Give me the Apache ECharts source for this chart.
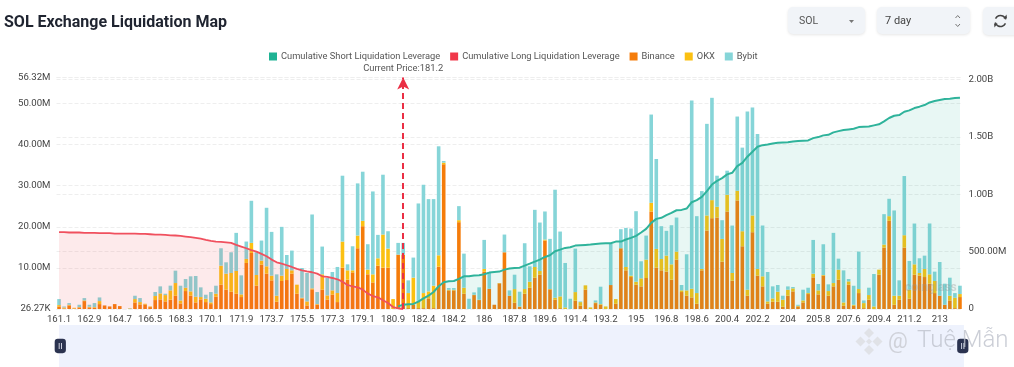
<!DOCTYPE html>
<html><head><meta charset="utf-8">
<style>html,body{margin:0;padding:0;background:#fff}#c{width:1014px;height:367px}</style>
<script src="https://cdn.jsdelivr.net/npm/echarts@6/dist/echarts.min.js"></script></head>
<body><div id="c"></div>
<script>
const prices = [161.1,161.4,161.7,162,162.3,162.6,162.9,163.2,163.5,163.8,164.1,164.4,164.7,165,165.3,165.6,165.9,166.2,166.5,166.8,167.1,167.4,167.7,168,168.3,168.6,168.9,169.2,169.5,169.8,170.1,170.4,170.7,171,171.3,171.6,171.9,172.2,172.5,172.8,173.1,173.4,173.7,174,174.3,174.6,174.9,175.2,175.5,175.8,176.1,176.4,176.7,177,177.3,177.6,177.9,178.2,178.5,178.8,179.1,179.4,179.7,180,180.3,180.6,180.9,181.2,181.2,181.5,181.8,182.1,182.4,182.7,183,183.3,183.6,183.9,184.2,184.5,184.8,185.1,185.4,185.7,186,186.3,186.6,186.9,187.2,187.5,187.8,188.1,188.4,188.7,189,189.3,189.6,189.9,190.2,190.5,190.8,191.1,191.4,191.7,192,192.3,192.6,192.9,193.2,193.5,193.8,194.1,194.4,194.7,195,195.3,195.6,195.9,196.2,196.5,196.8,197.1,197.4,197.7,198,198.3,198.6,198.9,199.2,199.5,199.8,200.1,200.4,200.7,201,201.3,201.6,201.9,202.2,202.5,202.8,203.1,203.4,203.7,204,204.3,204.6,204.9,205.2,205.5,205.8,206.1,206.4,206.7,207,207.3,207.6,207.9,208.2,208.5,208.8,209.1,209.4,209.7,210,210.3,210.6,210.9,211.2,211.5,211.8,212.1,212.4,212.7,213,213.3,213.6,213.9,214.2];
// bar values, millions
const binance = [.65,.16,.89,.16,.41,1.95,.41,.33,1.22,.89,.65,1.22,.73,0,0,1.63,1.14,1.14,.49,2.2,2.36,1.87,2.28,3.25,1.38,4.39,3.25,1.63,2.36,1.71,1.22,3.01,5.93,4.72,4.23,3.74,2.93,11.22,13.66,5.69,10.81,8.62,6.99,1.79,6.83,7.07,8.62,3.74,2.6,.89,4.8,1.06,4.72,2.28,3.5,1.71,10.08,7.15,8.94,14.8,20.16,8.46,6.5,10.57,10.08,10.08,0,13.25,13.25,.24,1.06,.24,.24,2.6,.24,10.33,35.2,4.55,4.55,21.14,3.74,0,3.41,2.2,9.11,4.96,1.06,6.26,13.82,3.25,1.54,.57,3.74,5.2,7.64,8.37,16.67,4.8,2.28,.24,0,0,2.03,.81,4.72,0,1.46,1.06,0,5.85,1.3,14.8,9.43,7.8,5.93,5.53,7.56,23.74,10.08,9.43,9.11,7.15,12.03,4.15,3.25,2.85,1.3,9.43,19.11,22.11,22.28,11.54,23.74,6.91,26.42,15.28,3.25,18.7,8.13,5.53,1.3,1.79,1.79,.57,3.25,4.31,.65,1.63,3.66,7.72,3.58,8.13,3.25,5.53,7.15,.81,5.93,.81,3.9,.24,2.28,0,8.37,14.96,21.46,1.06,2.28,14.96,2.52,8.37,8.13,7.8,6.18,3.9,3.25,1.06,2.11,.24,2.93];
const okx = [.33,.24,.16,.16,.08,.16,.16,.16,.73,0,0,0,0,0,.16,.81,.57,.16,.16,.98,1.46,1.54,2.28,3.09,.73,.81,1.06,1.38,.57,.81,.41,.73,4.63,3.9,4.55,5.53,.65,.98,2.44,2.6,.98,1.79,1.14,1.46,1.3,2.68,.81,2.2,.16,.98,.24,.16,3.74,1.06,1.06,2.2,6.34,2.28,.49,3.09,1.3,1.14,1.95,1.79,8.05,4.63,2.44,0,0,3.66,6.59,1.63,3.66,1.71,5.45,2.76,.41,.16,.16,.49,1.46,0,.08,.08,.65,0,0,.08,0,0,3.33,.08,1.14,1.46,2.6,.89,.24,.08,.49,2.85,.41,0,2.11,.89,1.06,.41,.16,.16,.65,0,1.14,0,.81,.33,.73,1.95,4.47,2.11,4.55,2.76,3.9,3.74,1.95,.41,1.3,2.11,2.6,.33,3.66,4.39,2.6,5.53,4.07,1.87,2.36,3.66,1.46,4.07,1.63,2.44,.57,.81,2.44,1.71,1.46,.73,.16,.49,.24,.89,.98,.16,1.14,.81,2.44,.81,.81,.24,.98,1.22,1.14,.65,1.22,.73,1.14,2.2,.98,3.01,2.2,2.52,.65,1.95,2.28,2.93,0,0,1.14,2.52,.73];
const bybit = [1.46,.24,.41,0,.57,.57,.49,.98,.89,0,0,0,0,0,.08,.81,.98,0,0,.98,1.71,.33,1.14,3.01,3.58,2.11,3.66,5.04,2.36,.98,2.52,1.95,4.23,2.76,5.04,9.27,4.63,4.23,10.24,5.53,4.88,14.23,10.65,5.2,11.87,3.41,4.8,0,7.24,6.91,17.97,2.93,6.75,4.23,4.47,6.34,16.02,1.46,5.85,12.68,11.95,6.18,20.16,5.69,14.55,4.23,0,2.85,2.85,3.09,4.88,23.82,26.34,22.44,21.06,26.5,.41,.41,.41,3.41,8.29,2.52,.57,3.01,7.07,3.98,0,0,4.31,1.3,3.5,3.58,11.14,3.74,13.9,11.79,6.83,12.2,26.26,15.77,10.81,2.52,10.57,.16,0,0,.49,4.23,0,10,0,4.63,9.51,11.46,17.15,4.15,5.85,21.46,21.87,7.97,6.02,9.51,8.29,1.3,8.78,45.77,18.7,18.94,22.28,24.88,7.56,4.55,5.85,11.54,18.05,20.33,43.33,26.26,32.85,12.36,7.15,2.93,1.63,.98,.81,.33,.24,2.6,1.3,8.21,1.54,7.48,1.63,12.2,2.68,7.8,.57,4.63,9.11,.65,1.79,7.89,0,7.4,4.23,20.73,3.74,14.39,6.99,9.92,3.58,3.25,12.36,2.28,8.21,5.12,4.39,1.14,2.03];
// cumulative leverage, millions
const longCum = [669,669,666,666,666,663,663,663,660,660,660,657,657,657,657,657,654,654,651,648,648,645,642,640,637,631,625,619,613,602,593,587,584,581,576,558,544,529,512,500,480,459,430,407,395,381,366,349,337,328,320,308,285,279,270,259,238,209,198,189,169,134,113,102,76,52,17,6,0];
const shortCum = [23,38,41,44,64,93,116,148,198,233,241,244,262,285,285,291,294,302,317,323,326,343,352,358,360,378,395,413,430,453,468,503,517,532,538,552,555,558,561,567,570,573,573,587,587,605,619,637,666,698,750,785,794,817,837,860,863,875,930,948,977,1026,1084,1116,1140,1172,1186,1244,1273,1326,1369,1413,1427,1433,1442,1448,1451,1453,1459,1462,1465,1468,1488,1497,1512,1517,1538,1549,1558,1564,1570,1584,1587,1590,1599,1608,1634,1663,1683,1689,1718,1730,1750,1762,1776,1799,1811,1820,1828,1831,1837,1840];
const leftTicks = [26270,10000000,20000000,30000000,40000000,50000000,56320000];
const currentPriceIndex = 68;
const shortStart = 67;

const font = 'Roboto, sans-serif';
const M = a => a.map(v => v * 1e6);
const longData = M(longCum).concat(new Array(prices.length - longCum.length).fill(null));
const shortData = new Array(shortStart).fill(null).concat(M(shortCum));
const barSeries = (name, data, color) => ({name, type:'bar', stack:'ex', yAxisIndex:0, data:M(data), barWidth:3.6, itemStyle:{color}, z:2});
const box = (x,y,w,h) => ({type:'rect', shape:{x,y,width:w,height:h,r:5}, style:{fill:'#f1f4f8', shadowBlur:3, shadowColor:'rgba(0,0,0,.10)', shadowOffsetY:1}});
const txt = (x,y,text,size,fill) => ({type:'text', x, y, style:{text, font:size+'px '+font, fill, textVerticalAlign:'middle'}});
const chev = (pts) => ({type:'polyline', shape:{points:pts}, style:{stroke:'#777', lineWidth:1, fill:'none'}});
const dia = (cx,cy,r) => ({type:'polygon', z:100, shape:{points:[[cx,cy-r],[cx+r,cy],[cx,cy+r],[cx-r,cy]]}, style:{fill:'rgba(222,224,230,.95)'}});
const arc = (a,b) => ({type:'arc', shape:{cx:1000.5,cy:21,r:5.5,startAngle:a,endAngle:b}, style:{stroke:'#444',lineWidth:1.5,fill:'none'}});

const chart = echarts.init(document.getElementById('c'), null, {renderer:'canvas'});
chart.setOption({
  animation:false,
  backgroundColor:'#fff',
  title:{text:'SOL Exchange Liquidation Map', left:-1, top:10, textStyle:{fontFamily:font, fontSize:16, fontWeight:'bold', color:'#1f2430'}},
  legend:{top:47, left:264, itemWidth:8, itemHeight:8, itemGap:10, icon:'rect', textStyle:{fontFamily:font, fontSize:9.3, color:'#555', padding:[0,0,0,-1]},
    data:['Cumulative Short Liquidation Leverage','Cumulative Long Liquidation Leverage','Binance','OKX','Bybit']},
  grid:{left:56.5, right:51.5, top:77.5, bottom:58},
  xAxis:{type:'category', data:prices.map(String), axisTick:{show:false}, axisLine:{show:false},
    axisLabel:{interval:5, color:'#444', fontFamily:font, fontSize:9.6, margin:6, hideOverlap:false}},
  yAxis:[
    {type:'value', min:26270, max:56320000, position:'left',
     axisTick:{show:false, customValues:leftTicks},
     axisLabel:{customValues:leftTicks, color:'#444', fontFamily:font, fontSize:9.6, margin:6,
       formatter:v=> v<1e6 ? (v/1e3).toFixed(2)+'K' : (v/1e6).toFixed(2)+'M'},
     splitLine:{lineStyle:{type:'dashed', color:'#eeeeee'}}},
    {type:'value', min:0, max:2016000000, interval:500000000, position:'right',
     axisLabel:{color:'#444', fontFamily:font, fontSize:9.6, margin:6, showMaxLabel:false,
       formatter:v=> v===0 ? '0' : v>=1e9 ? (v/1e9).toFixed(2)+'B' : (v/1e6).toFixed(2)+'M'},
     splitLine:{show:true, lineStyle:{type:'dashed', color:'#eeeeee'}}}
  ],
  dataZoom:[{type:'slider', xAxisIndex:0, start:0, end:100, left:58.5, width:904.5, top:325, height:42,
    showDetail:false, showDataShadow:false, brushSelect:false, moveHandleSize:0,
    backgroundColor:'#eef2fd', fillerColor:'#eef2fd', borderColor:'transparent',
    handleIcon:'path://M3,0 H8 A3,3 0 0 1 11,3 V11 A3,3 0 0 1 8,14 H3 A3,3 0 0 1 0,11 V3 A3,3 0 0 1 3,0 Z M4,4 V10 H4.8 V4 Z M6.2,4 V10 H7 V4 Z',
    handleSize:'34%', handleStyle:{color:'#2b3350', borderColor:'#2b3350', borderWidth:0}}],
  series:[
    {name:'Cumulative Short Liquidation Leverage', type:'line', yAxisIndex:1, data:shortData, symbol:'none', z:3,
     lineStyle:{color:'#2fb39b', width:2}, itemStyle:{color:'#1fb394'}, areaStyle:{color:'#2fb39b', opacity:.11}},
    {name:'Cumulative Long Liquidation Leverage', type:'line', yAxisIndex:1, data:longData, symbol:'none', z:3,
     lineStyle:{color:'#f0505e', width:1.8}, itemStyle:{color:'#f0384a'}, areaStyle:{color:'#f0505e', opacity:.12},
     markLine:{silent:true, symbol:['none','arrow'], symbolSize:[9,12],
       lineStyle:{color:'#ea2f45', type:[6,4], width:2},
       label:{show:true, position:'end', distance:4, formatter:'Current Price:181.2', color:'#555', fontFamily:font, fontSize:9.4},
       data:[{xAxis:currentPriceIndex}]}},
    barSeries('Binance', binance, '#f57c0a'),
    barSeries('OKX', okx, '#fbc012'),
    barSeries('Bybit', bybit, '#86d5d8')
  ],
  graphic:[
    box(788,7,77,27), box(877,7,93,27), box(983,7,40,28),
    txt(799,21,'SOL',10.5,'#555'),
    {type:'polygon', shape:{points:[[849,20],[854,20],[851.5,23]]}, style:{fill:'#777'}},
    txt(885,21,'7 day',11,'#444'),
    chev([[955.5,18],[957.7,15.5],[960,18]]),
    chev([[955.5,24],[957.7,26.5],[960,24]]),
    arc(-2.7,-0.3), arc(0.45,2.85),
    {type:'polygon', shape:{points:[[1007,18.5],[1003.5,18.5],[1006.5,14.5]]}, style:{fill:'#444'}},
    {type:'polygon', shape:{points:[[994,23.5],[997.5,23.5],[994.5,27.5]]}, style:{fill:'#444'}},
    {type:'text', x:905, y:288, z:10, style:{text:'coinglass', font:'bold 12px '+font, fill:'rgba(150,150,150,.35)', textVerticalAlign:'middle'}},
    dia(869,333,5), dia(869,350,5), dia(860.5,341.5,5), dia(877.5,341.5,5), dia(869,341.5,3),
    {type:'text', x:888, y:342, z:100, style:{text:'@', font:'22px '+font, fill:'rgba(205,208,215,.95)', textVerticalAlign:'middle'}},
    {type:'text', x:917, y:341, z:100, style:{text:'Tuệ Mẫn', font:'300 24px '+font, fill:'rgba(190,194,204,.8)', textVerticalAlign:'middle'}}
  ]
});
</script></body></html>
